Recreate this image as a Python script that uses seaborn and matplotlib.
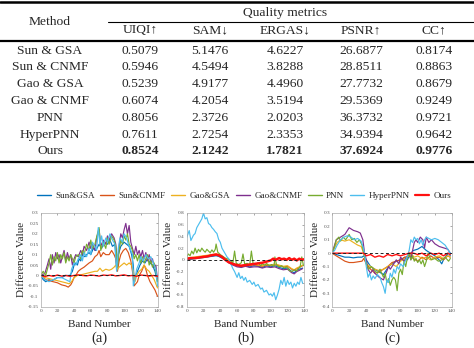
import matplotlib
matplotlib.use("Agg")
import matplotlib.pyplot as plt
import matplotlib.ticker as mticker
from matplotlib.lines import Line2D
import pandas as pd
import seaborn as sns

# ---------------- table data ----------------
METHODS = ["Sun & GSA", "Sun & CNMF", "Gao & GSA", "Gao & CNMF", "PNN", "HyperPNN", "Ours"]
METRICS = ["UIQI↑", "SAM↓", "ERGAS↓", "PSNR↑", "CC↑"]
UIQI = [0.5079, 0.5946, 0.5239, 0.6074, 0.8056, 0.7611, 0.8524]
SAM = [5.1476, 4.5494, 4.9177, 4.2054, 2.3726, 2.7254, 2.1242]
ERGAS = [4.6227, 3.8288, 4.4960, 3.5194, 2.0203, 2.3353, 1.7821]
PSNR = [26.6877, 28.8511, 27.7732, 29.5369, 36.3732, 34.9394, 37.6924]
CC = [0.8174, 0.8863, 0.8679, 0.9249, 0.9721, 0.9642, 0.9776]

# ---------------- curve data (band, difference value) ----------------
SERIES = ["Sun&GSA", "Sun&CNMF", "Gao&GSA", "Gao&CNMF", "PNN", "HyperPNN", "Ours"]
COLORS = ["#0072BD", "#D95319", "#EDB120", "#7E2F8E", "#77AC30", "#4DBEEE", "#FF1010"]

A_SUN_GSA = [(0,0.0),(3,-0.02),(6,-0.03),(10,-0.02),(13,-0.025),(16,-0.02),(20,-0.01),(25,-0.01),(30,0.0),(35,0.0),(38,0.02),(40,0.05),(42,0.06),(44,0.05),(46,0.08),(48,0.07),(50,0.1),(53,0.09),(55,0.1),(58,0.11),(60,0.1),(63,0.13),(66,0.12),(70,0.15),(73,0.13),(76,0.16),(80,0.15),(83,0.17),(86,0.14),(89,0.15),(91,0.03),(93,0.1),(96,0.14),(100,0.16),(103,0.15),(106,0.14),(109,0.1),(111,0.05),(112,-0.03),(114,0.0),(116,0.02),(119,0.05),(122,0.07),(125,0.06),(128,0.08),(131,0.06),(134,0.05),(137,0.02),(140,-0.03)]
A_SUN_CNMF = [(0,0.0),(3,-0.01),(6,-0.02),(10,-0.025),(15,-0.03),(20,-0.035),(25,-0.045),(30,-0.05),(33,-0.056),(36,-0.045),(38,-0.03),(40,-0.01),(42,0.0),(45,0.02),(48,0.03),(52,0.04),(55,0.05),(58,0.06),(62,0.07),(65,0.09),(68,0.1),(70,0.12),(72,0.09),(75,0.11),(78,0.1),(82,0.1),(85,0.12),(88,0.1),(90,0.08),(92,0.02),(94,0.07),(96,0.1),(99,0.12),(102,0.13),(105,0.11),(108,0.07),(110,0.02),(112,-0.05),(114,-0.04),(116,-0.03),(118,0.0),(121,0.02),(124,0.05),(126,0.03),(128,0.0),(131,-0.03),(134,-0.05),(137,-0.07),(140,-0.1)]
A_GAO_GSA = [(0,0.0),(5,-0.01),(10,-0.015),(15,-0.02),(20,-0.025),(25,-0.03),(30,-0.035),(34,-0.04),(37,-0.03),(40,-0.01),(44,0.0),(50,0.005),(55,0.01),(60,0.015),(65,0.02),(68,0.02),(71,0.035),(74,0.02),(78,0.03),(82,0.025),(85,0.03),(88,0.04),(90,0.05),(92,0.03),(94,0.04),(97,0.05),(100,0.06),(103,0.05),(106,0.06),(109,0.05),(111,0.02),(113,-0.03),(115,0.0),(118,0.02),(121,0.03),(124,0.05),(127,0.03),(130,0.02),(133,0.0),(136,-0.02),(138,-0.04),(140,-0.06)]
A_GAO_CNMF = [(0,0.0),(5,0.01),(8,0.05),(10,0.08),(12,0.03),(14,0.1),(16,0.06),(18,0.11),(20,0.08),(22,0.1),(24,0.06),(26,0.09),(28,0.12),(30,0.07),(32,0.11),(34,0.08),(36,0.1),(38,0.05),(40,0.08),(42,0.1),(45,0.09),(48,0.12),(50,0.1),(52,0.14),(55,0.12),(58,0.16),(60,0.13),(62,0.15),(65,0.12),(67,0.18),(70,0.22),(72,0.14),(75,0.17),(78,0.15),(80,0.19),(82,0.17),(85,0.2),(88,0.18),(90,0.15),(92,0.05),(94,0.14),(96,0.2),(98,0.18),(100,0.22),(102,0.25),(104,0.2),(106,0.24),(108,0.16),(110,0.13),(112,0.1),(114,0.14),(116,0.1),(118,0.12),(120,0.09),(122,0.12),(124,0.08),(126,0.11),(128,0.07),(130,0.1),(132,0.06),(134,0.08),(136,0.04),(138,0.05),(140,-0.02)]
A_PNN = [(0,0.0),(3,0.02),(6,0.0),(8,0.03),(10,0.06),(12,0.1),(14,0.05),(16,0.09),(18,0.07),(20,0.11),(22,0.06),(24,0.1),(26,0.08),(28,0.11),(30,0.06),(32,0.09),(34,0.07),(36,0.1),(38,0.08),(40,0.06),(42,0.09),(45,0.1),(48,0.08),(50,0.12),(52,0.1),(55,0.15),(58,0.12),(60,0.17),(62,0.13),(65,0.15),(68,0.2),(70,0.23),(72,0.12),(75,0.16),(78,0.13),(80,0.18),(82,0.15),(85,0.19),(88,0.17),(90,0.14),(92,0.04),(94,0.12),(96,0.17),(98,0.15),(100,0.19),(102,0.17),(104,0.2),(106,0.15),(108,0.14),(110,0.12),(112,0.08),(114,0.1),(116,0.07),(118,0.1),(120,0.06),(122,0.09),(124,0.06),(126,0.08),(128,0.1),(130,0.05),(132,0.07),(134,0.04),(136,0.06),(138,0.02),(140,-0.03)]
A_HYPERPNN = [(0,0.0),(5,-0.02),(10,-0.03),(15,-0.02),(20,-0.01),(25,-0.01),(30,-0.02),(35,-0.03),(37,0.03),(40,0.06),(42,0.05),(45,0.08),(48,0.1),(50,0.07),(52,0.11),(55,0.09),(58,0.13),(60,0.1),(62,0.16),(65,0.14),(67,0.12),(69,0.23),(71,0.15),(73,0.19),(75,0.14),(78,0.18),(80,0.16),(83,0.2),(86,0.17),(89,0.15),(91,0.02),(93,0.13),(95,0.18),(98,0.16),(100,0.2),(103,0.18),(105,0.15),(108,0.12),(110,0.1),(111,-0.05),(113,-0.02),(115,0.03),(118,0.06),(120,0.09),(123,0.07),(126,0.1),(129,0.08),(132,0.09),(135,0.06),(138,0.03),(140,-0.05)]
A_OURS = [(0,0.0),(5,-0.005),(10,0.0),(15,-0.004),(20,0.002),(25,-0.003),(30,0.0),(35,-0.004),(40,0.0),(45,0.003),(50,0.0),(55,-0.002),(60,0.002),(65,0.0),(70,-0.003),(75,0.002),(80,0.0),(85,0.003),(90,-0.002),(95,0.0),(100,0.003),(105,-0.002),(110,0.0),(115,-0.004),(120,0.002),(125,0.0),(130,-0.003),(135,0.0),(140,-0.004)]

B_SUN_GSA = [(0,0.0),(5,0.01),(10,0.02),(15,0.03),(20,0.04),(25,0.05),(30,0.06),(35,0.07),(38,0.06),(42,0.03),(46,0.0),(50,-0.04),(55,-0.08),(60,-0.1),(65,-0.12),(70,-0.1),(75,-0.12),(80,-0.1),(85,-0.11),(90,-0.13),(95,-0.1),(100,-0.12),(105,-0.1),(110,-0.13),(115,-0.15),(120,-0.14),(125,-0.2),(128,-0.22),(131,-0.18),(134,-0.16),(138,-0.14)]
B_SUN_CNMF = [(0,0.02),(5,0.03),(10,0.04),(15,0.05),(20,0.06),(25,0.07),(30,0.08),(35,0.1),(38,0.08),(42,0.05),(46,0.01),(50,-0.03),(55,-0.07),(60,-0.1),(65,-0.11),(70,-0.09),(75,-0.1),(80,-0.08),(85,-0.1),(90,-0.11),(95,-0.09),(100,-0.1),(105,-0.08),(110,-0.1),(115,-0.12),(120,-0.11),(125,-0.16),(128,-0.18),(131,-0.15),(134,-0.13),(138,-0.1)]
B_GAO_GSA = [(0,0.03),(5,0.04),(10,0.05),(15,0.06),(20,0.07),(25,0.08),(30,0.09),(35,0.1),(38,0.09),(42,0.06),(46,0.02),(50,-0.02),(55,-0.06),(60,-0.09),(65,-0.1),(70,-0.08),(75,-0.09),(80,-0.07),(85,-0.09),(90,-0.1),(95,-0.08),(100,-0.09),(105,-0.07),(110,-0.09),(115,-0.11),(120,-0.1),(125,-0.15),(128,-0.17),(131,-0.14),(134,-0.12),(138,-0.09)]
B_GAO_CNMF = [(0,0.01),(5,0.02),(10,0.03),(15,0.04),(20,0.05),(25,0.06),(30,0.07),(35,0.08),(38,0.07),(42,0.04),(46,0.0),(50,-0.05),(55,-0.09),(60,-0.12),(65,-0.13),(70,-0.11),(75,-0.13),(80,-0.12),(85,-0.12),(90,-0.14),(95,-0.12),(100,-0.13),(105,-0.12),(110,-0.15),(115,-0.17),(120,-0.16),(125,-0.22),(128,-0.24),(131,-0.2),(134,-0.18),(138,-0.15)]
B_PNN = [(0,0.05),(2,0.1),(4,0.07),(6,0.15),(8,0.1),(10,0.2),(12,0.12),(14,0.18),(16,0.14),(18,0.2),(20,0.16),(22,0.13),(24,0.18),(26,0.15),(28,0.12),(30,0.17),(32,0.13),(34,0.18),(35,0.27),(37,0.13),(40,0.09),(43,0.06),(46,0.03),(50,0.01),(53,-0.02),(55,-0.05),(57,0.15),(59,-0.06),(62,-0.08),(65,-0.05),(67,0.1),(69,-0.07),(72,-0.06),(75,-0.09),(77,0.15),(79,-0.06),(82,-0.08),(85,-0.05),(88,-0.1),(90,-0.07),(93,-0.09),(95,-0.06),(98,-0.1),(101,-0.08),(104,-0.11),(105,0.05),(107,-0.09),(110,-0.12),(113,-0.1),(116,-0.14),(119,-0.12),(122,-0.18),(125,-0.2),(128,-0.17),(131,-0.19),(133,-0.15),(135,-0.12),(137,0.05),(139,-0.1)]
B_HYPERPNN = [(0,0.38),(3,0.5),(5,0.33),(8,0.42),(10,0.45),(12,0.55),(14,0.6),(16,0.65),(18,0.7),(20,0.8),(22,0.7),(24,0.72),(26,0.62),(28,0.6),(30,0.55),(32,0.52),(34,0.48),(36,0.45),(38,0.35),(40,0.3),(42,0.2),(44,0.15),(46,0.1),(48,0.05),(50,0.02),(52,-0.05),(55,-0.15),(57,-0.2),(60,-0.3),(62,-0.22),(64,-0.32),(66,-0.28),(68,-0.35),(70,-0.3),(72,-0.38),(75,-0.35),(78,-0.42),(80,-0.38),(82,-0.45),(85,-0.42),(88,-0.5),(90,-0.48),(92,-0.55),(95,-0.52),(98,-0.6),(100,-0.58),(102,-0.62),(104,-0.56),(106,-0.68),(108,-0.6),(110,-0.5),(112,-0.35),(114,-0.42),(116,-0.3),(118,-0.45),(120,-0.35),(122,-0.42),(124,-0.38),(126,-0.48),(128,-0.4),(130,-0.45),(132,-0.38),(134,-0.42),(136,-0.3),(138,-0.4)]
B_OURS = [(0,0.02),(5,0.03),(10,0.03),(15,0.04),(20,0.05),(25,0.06),(30,0.08),(35,0.09),(38,0.08),(42,0.05),(46,0.0),(50,-0.04),(55,-0.07),(60,-0.09),(65,-0.1),(70,-0.09),(75,-0.08),(80,-0.07),(85,-0.06),(90,-0.05),(95,-0.03),(100,-0.01),(103,0.02),(106,0.0),(110,0.03),(113,0.01),(116,0.02),(119,0.0),(122,0.03),(125,0.0),(128,0.02),(131,-0.01),(134,0.02),(137,0.0),(139,0.01)]

C_SUN_GSA = [(0,0.0),(5,-0.01),(10,-0.02),(15,-0.03),(20,-0.03),(25,-0.035),(30,-0.03),(35,-0.03),(37,-0.02),(40,-0.05),(45,-0.1),(50,-0.12),(55,-0.14),(60,-0.16),(63,-0.13),(66,-0.1),(70,-0.08),(75,-0.06),(80,-0.05),(85,-0.03),(88,-0.05),(90,-0.02),(92,0.0),(95,0.02),(100,0.03),(105,0.05),(110,0.02),(115,0.0),(120,-0.02),(125,-0.05),(128,-0.08),(130,-0.05),(133,-0.02),(136,0.0),(138,-0.02)]
C_SUN_CNMF = [(0,0.0),(5,-0.02),(10,-0.04),(15,-0.06),(20,-0.07),(25,-0.07),(30,-0.065),(35,-0.06),(37,-0.04),(40,-0.08),(45,-0.12),(50,-0.15),(55,-0.14),(60,-0.12),(65,-0.1),(70,-0.07),(75,-0.06),(80,-0.05),(85,-0.03),(90,-0.02),(95,-0.04),(100,-0.06),(105,-0.03),(110,-0.05),(115,-0.02),(120,-0.04),(125,-0.03),(130,-0.05),(135,-0.02),(138,-0.03)]
C_GAO_GSA = [(0,0.0),(3,0.04),(6,0.08),(10,0.1),(15,0.09),(20,0.1),(25,0.08),(30,0.06),(34,0.05),(37,0.0),(40,-0.08),(45,-0.1),(50,-0.12),(55,-0.13),(60,-0.12),(65,-0.1),(70,-0.08),(75,-0.1),(80,-0.06),(85,-0.04),(90,-0.02),(93,-0.01),(96,-0.03),(100,-0.02),(105,-0.04),(110,-0.03),(115,-0.05),(120,-0.03),(125,-0.02),(130,-0.04),(135,-0.02),(138,-0.03)]
C_GAO_CNMF = [(0,0.0),(5,0.1),(10,0.12),(15,0.14),(20,0.19),(25,0.17),(30,0.16),(33,0.15),(36,0.1),(38,0.0),(40,-0.05),(42,-0.12),(45,-0.15),(48,-0.12),(50,-0.15),(55,-0.18),(60,-0.2),(63,-0.15),(66,-0.1),(68,-0.12),(72,-0.08),(75,-0.05),(78,-0.08),(80,-0.03),(84,-0.06),(88,-0.02),(90,0.0),(92,-0.05),(94,0.02),(96,0.08),(98,0.1),(100,0.08),(103,0.12),(106,0.1),(108,0.04),(110,0.12),(113,0.08),(116,0.1),(120,0.07),(125,0.05),(130,0.04),(135,0.03),(138,0.0)]
C_PNN = [(0,0.0),(3,0.05),(5,0.1),(8,0.12),(10,0.09),(13,0.12),(16,0.1),(20,0.14),(23,0.1),(26,0.11),(29,0.08),(32,0.1),(35,0.06),(37,0.0),(40,-0.08),(43,-0.12),(46,-0.1),(50,-0.13),(53,-0.15),(56,-0.12),(60,-0.18),(62,-0.15),(64,-0.22),(66,-0.19),(68,-0.24),(70,-0.2),(72,-0.18),(74,-0.2),(76,-0.28),(78,-0.15),(80,-0.12),(82,-0.16),(84,-0.06),(86,-0.1),(88,-0.03),(90,0.0),(92,-0.05),(94,-0.02),(96,-0.06),(98,-0.04),(100,-0.07),(102,-0.05),(104,-0.08),(106,-0.05),(108,-0.1),(110,-0.06),(112,0.0),(114,-0.03),(116,-0.05),(120,-0.04),(124,-0.06),(128,-0.05),(132,-0.03),(136,-0.06),(138,-0.04)]
C_HYPERPNN = [(0,0.0),(3,0.02),(6,0.06),(10,0.1),(14,0.12),(18,0.13),(22,0.12),(26,0.1),(30,0.11),(34,0.09),(36,0.05),(38,0.0),(40,-0.1),(42,-0.18),(44,-0.15),(46,-0.2),(48,-0.17),(50,-0.19),(53,-0.16),(56,-0.18),(58,-0.22),(60,-0.25),(62,-0.3),(64,-0.2),(66,-0.22),(68,-0.15),(70,-0.18),(72,-0.12),(74,-0.15),(76,-0.1),(78,-0.12),(80,-0.08),(83,-0.1),(86,-0.05),(88,-0.02),(90,0.02),(92,0.1),(94,0.08),(96,0.12),(98,0.1),(100,0.11),(102,0.07),(104,0.1),(106,0.06),(108,0.1),(110,0.12),(113,0.11),(116,0.1),(120,0.11),(124,0.1),(128,0.08),(132,0.06),(135,0.03),(138,0.0)]
C_OURS = [(0,0.0),(10,0.0),(20,0.0),(30,0.0),(37,0.0),(40,-0.02),(45,-0.01),(50,-0.03),(55,-0.02),(60,-0.03),(65,-0.01),(70,-0.02),(75,-0.01),(80,-0.02),(85,-0.01),(90,0.0),(95,0.0),(100,-0.01),(105,0.0),(110,-0.02),(115,0.0),(120,-0.01),(125,0.0),(130,-0.02),(135,0.0),(138,-0.01)]

PANEL_A = [A_SUN_GSA, A_SUN_CNMF, A_GAO_GSA, A_GAO_CNMF, A_PNN, A_HYPERPNN, A_OURS]
PANEL_B = [B_SUN_GSA, B_SUN_CNMF, B_GAO_GSA, B_GAO_CNMF, B_PNN, B_HYPERPNN, B_OURS]
PANEL_C = [C_SUN_GSA, C_SUN_CNMF, C_GAO_GSA, C_GAO_CNMF, C_PNN, C_HYPERPNN, C_OURS]

X_TICKS = [0, 20, 40, 60, 80, 100, 120, 140]
A_YTICKS = [-0.15, -0.1, -0.05, 0, 0.05, 0.1, 0.15, 0.2, 0.25, 0.3]
B_YTICKS = [-0.8, -0.6, -0.4, -0.2, 0, 0.2, 0.4, 0.6, 0.8]
C_YTICKS = [-0.4, -0.3, -0.2, -0.1, 0, 0.1, 0.2, 0.3]
PANEL_LABELS = ["(a)", "(b)", "(c)"]

# ---------------- figure ----------------
sns.set_style("white")
plt.rcParams["font.family"] = ["Liberation Serif", "DejaVu Serif"]

W, H = 474, 348
fig = plt.figure(figsize=(W / 100, H / 100), dpi=100)


def fx(px):
    return px / W


def fy(py):
    return 1 - py / H


# ---- table ----
TFS = 9.7
def hline(y, x0, x1, lw):
    fig.add_artist(Line2D([fx(x0), fx(x1)], [fy(y), fy(y)], color="black", lw=lw))

hline(1.5, 0, W, 1.8)
hline(21.7, 108, W, 0.8)
hline(40.7, 0, W, 1.6)
hline(161.5, 0, W, 1.6)

col_x = [140, 210, 285, 361, 434]
fig.text(fx(50), fy(22), "Method", ha="center", va="center", fontsize=TFS)
fig.text(fx(285), fy(13), "Quality metrics", ha="center", va="center", fontsize=TFS)
for x, m in zip(col_x, METRICS):
    fig.text(fx(x), fy(30), m, ha="center", va="center", fontsize=TFS)

row_y = [51, 67.5, 84, 101, 118, 135, 151.5]
cols = [UIQI, SAM, ERGAS, PSNR, CC]
for i, (y, name) in enumerate(zip(row_y, METHODS)):
    bold = name == "Ours"
    fig.text(fx(50), fy(y), name, ha="center", va="center", fontsize=TFS)
    for x, col in zip(col_x, cols):
        fig.text(fx(x), fy(y), f"{col[i]:.4f}", ha="center", va="center",
                 fontsize=TFS, fontweight="bold" if bold else "normal")

# ---- line panels ----
axes_px = [(40.7, 157.5), (186.7, 304.3), (332, 452)]
top_px, bot_px = 213, 306.7
yinfo = [((-0.15, 0.3), A_YTICKS), ((-0.8, 0.8), B_YTICKS), ((-0.4, 0.3), C_YTICKS)]
ours_lw = [1.0, 1.8, 1.0]

palette = dict(zip(SERIES, COLORS))
for k, (panel, (x0, x1), (ylim, yt)) in enumerate(zip([PANEL_A, PANEL_B, PANEL_C], axes_px, yinfo)):
    ax = fig.add_axes([fx(x0), fy(bot_px), (x1 - x0) / W, (bot_px - top_px) / H])
    rows = []
    for name, pts in zip(SERIES, panel):
        for b, v in pts:
            rows.append({"method": name, "band": b, "value": v})
    df = pd.DataFrame(rows)
    sizes = {s: (ours_lw[k] if s == "Ours" else 0.85) for s in SERIES}
    sns.lineplot(data=df, x="band", y="value", hue="method", hue_order=SERIES,
                 palette=palette, size="method", sizes=sizes, size_order=SERIES,
                 estimator=None, sort=False, legend=False, ax=ax)
    ax.axhline(0, color="#222222", ls=(0, (3, 2.5)), lw=0.7, zorder=3)
    ax.set_xlim(0, 140)
    ax.set_ylim(*ylim)
    ax.set_xticks(X_TICKS)
    ax.set_yticks(yt)
    ax.yaxis.set_major_formatter(mticker.FuncFormatter(lambda v, p: f"{round(v, 3):g}"))
    ax.tick_params(direction="in", length=1.5, width=0.4, labelsize=3.8,
                   colors="#666666", labelcolor="#555555", top=True, right=True, pad=1.5)
    for sp in ax.spines.values():
        sp.set_color("#aaaaaa")
        sp.set_linewidth(0.5)
    ax.set_xlabel("Band Number", fontsize=8)
    ax.set_ylabel("Difference Value", fontsize=8)
    ax.xaxis.set_label_coords(0.5, -17.5 / (bot_px - top_px))
    ax.xaxis.label.set_va("center")
    ylab_x = [21.7, 168.5, 316][k]
    ax.yaxis.set_label_coords((ylab_x - x0) / (x1 - x0), 0.5)
    ax.yaxis.label.set_va("center")
    fig.text(fx((x0 + x1) / 2), fy(338.5), PANEL_LABELS[k], ha="center", va="center", fontsize=10.5)

handles = [Line2D([], [], color=c, lw=(1.6 if s == "Ours" else 1.0)) for s, c in zip(SERIES, COLORS)]
fig.legend(handles, SERIES, loc="center", bbox_to_anchor=(fx(244), fy(196)), ncol=7,
           frameon=False, fontsize=6.6, handlelength=1.5, handletextpad=0.5,
           columnspacing=0.6, borderpad=0)

fig.savefig("out.png", dpi=100)
